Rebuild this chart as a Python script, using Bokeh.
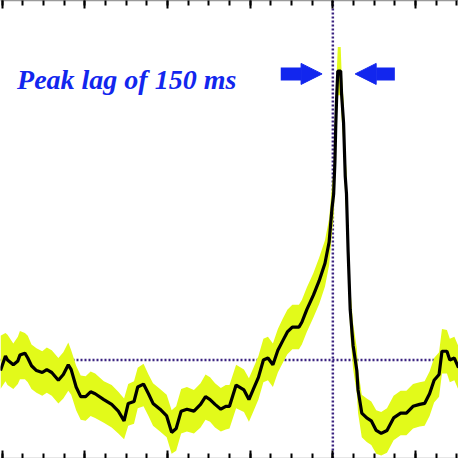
from bokeh.plotting import figure
from bokeh.models import Range1d, LinearAxis, FixedTicker, Span, Label, Arrow, NormalHead
from bokeh.embed import file_html
from bokeh.resources import INLINE

# Lag (s) and cross-correlation values
lag_s = [-8.04, -7.92, -7.87, -7.73, -7.62, -7.57, -7.45, -7.38, -7.29, -7.17,
         -7.03, -6.92, -6.80, -6.64, -6.52, -6.40, -6.33, -6.21, -6.10, -5.98,
         -5.86, -5.75, -5.54, -5.35, -5.19, -5.05, -4.95, -4.81, -4.72, -4.58,
         -4.46, -4.35, -4.18, -4.02, -3.90, -3.79, -3.67, -3.53, -3.36, -3.20,
         -3.08, -2.97, -2.85, -2.71, -2.59, -2.50, -2.34, -2.15, -2.03, -1.92,
         -1.80, -1.68, -1.57, -1.45, -1.33, -1.21, -1.10, -0.98, -0.82, -0.75,
         -0.63, -0.47, -0.33, -0.19, -0.09, -0.02, 0.02, 0.05, 0.07, 0.09,
         0.12, 0.19, 0.21, 0.26, 0.30, 0.33, 0.37, 0.42, 0.49, 0.58,
         0.61, 0.70, 0.82, 0.93, 1.05, 1.17, 1.31, 1.47, 1.64, 1.78,
         1.94, 2.10, 2.22, 2.34, 2.45, 2.57, 2.64, 2.76, 2.83, 2.94, 3.04]

xcorr = [-0.011, 0.004, 0.000, -0.005, -0.001, 0.005, 0.007, 0.002, -0.006, -0.011,
         -0.013, -0.010, -0.013, -0.021, -0.015, -0.005, -0.010, -0.028, -0.038, -0.038,
         -0.033, -0.035, -0.041, -0.046, -0.053, -0.063, -0.045, -0.043, -0.028, -0.025,
         -0.035, -0.045, -0.051, -0.058, -0.075, -0.071, -0.053, -0.051, -0.053, -0.046,
         -0.038, -0.041, -0.046, -0.051, -0.048, -0.048, -0.026, -0.031, -0.041, -0.030,
         -0.018, 0.000, 0.002, -0.005, 0.010, 0.020, 0.029, 0.034, 0.034, 0.039,
         0.052, 0.067, 0.082, 0.100, 0.122, 0.157, 0.172, 0.205, 0.242, 0.269,
         0.299, 0.299, 0.276, 0.245, 0.190, 0.172, 0.112, 0.052, 0.015, -0.011,
         -0.031, -0.055, -0.060, -0.063, -0.073, -0.076, -0.073, -0.060, -0.055, -0.055,
         -0.048, -0.046, -0.045, -0.035, -0.021, -0.015, 0.009, 0.009, 0.000, 0.002, -0.008]

band_upper = [0.025, 0.028, 0.026, 0.017, 0.024, 0.030, 0.028, 0.025, 0.016, 0.012,
              0.009, 0.013, 0.010, 0.002, 0.008, 0.018, 0.010, -0.006, -0.016, -0.017,
              -0.012, -0.014, -0.022, -0.026, -0.033, -0.040, -0.025, -0.022, -0.008, -0.004,
              -0.015, -0.024, -0.030, -0.036, -0.052, -0.048, -0.030, -0.028, -0.031, -0.024,
              -0.015, -0.018, -0.024, -0.029, -0.026, -0.026, -0.005, -0.010, -0.019, -0.008,
              0.004, 0.022, 0.024, 0.017, 0.032, 0.043, 0.052, 0.057, 0.057, 0.062,
              0.075, 0.090, 0.106, 0.124, 0.146, 0.180, 0.196, 0.229, 0.266, 0.293,
              0.324, 0.324, 0.300, 0.269, 0.214, 0.196, 0.136, 0.076, 0.038, 0.012,
              -0.010, -0.036, -0.040, -0.043, -0.052, -0.054, -0.050, -0.037, -0.032, -0.032,
              -0.025, -0.023, -0.022, -0.012, 0.002, 0.008, 0.032, 0.031, 0.022, 0.024, 0.014]

band_lower = [-0.030, -0.022, -0.026, -0.030, -0.025, -0.020, -0.020, -0.023, -0.030, -0.034,
              -0.037, -0.034, -0.037, -0.045, -0.040, -0.032, -0.036, -0.052, -0.062, -0.063,
              -0.058, -0.060, -0.065, -0.070, -0.076, -0.082, -0.068, -0.066, -0.050, -0.048,
              -0.058, -0.068, -0.074, -0.080, -0.097, -0.094, -0.076, -0.074, -0.076, -0.070,
              -0.062, -0.064, -0.070, -0.074, -0.072, -0.071, -0.050, -0.054, -0.064, -0.053,
              -0.041, -0.023, -0.021, -0.028, -0.013, -0.003, 0.006, 0.011, 0.011, 0.016,
              0.029, 0.044, 0.058, 0.076, 0.098, 0.132, 0.148, 0.181, 0.218, 0.245,
              0.274, 0.274, 0.252, 0.221, 0.166, 0.148, 0.088, 0.028, -0.009, -0.035,
              -0.055, -0.080, -0.085, -0.088, -0.097, -0.099, -0.096, -0.083, -0.078, -0.078,
              -0.071, -0.069, -0.068, -0.058, -0.044, -0.038, -0.014, -0.014, -0.023, -0.021, -0.031]

major_ticks = [-8, -6, -4, -2, 0, 2]
minor_ticks = [-8, -7.5, -7, -6.5, -6, -5.5, -5, -4.5, -4, -3.5, -3, -2.5, -2, -1.5,
               -1, -0.5, 0, 0.5, 1, 1.5, 2, 2.5, 3]

label_text = "Peak lag of 150 ms"

BLUE = "#1226ee"
YELLOW = "#e2fa1a"
DOT = "#3a2280"

p = figure(width=458, height=458, output_backend="svg", toolbar_location=None,
           x_range=Range1d(-8.04, 3.04), y_range=Range1d(-0.102, 0.372),
           x_axis_location=None, y_axis_location=None, min_border=0)
p.outline_line_color = None
p.grid.visible = False

ticker = FixedTicker(ticks=major_ticks, minor_ticks=minor_ticks)
for loc in ("above", "below"):
    ax = LinearAxis(ticker=ticker, major_label_text_font_size="0px",
                    major_label_text_color=None,
                    major_label_standoff=0,
                    major_tick_in=8, major_tick_out=0,
                    minor_tick_in=5, minor_tick_out=0,
                    major_tick_line_width=2, minor_tick_line_width=2,
                    major_tick_line_color="black", minor_tick_line_color="black",
                    axis_line_color="#9a9a9a", axis_line_width=1.5)
    p.add_layout(ax, loc)

p.add_layout(Span(location=0, dimension="height", line_color=DOT,
                  line_width=2.5, line_dash="2 2", level="underlay"))
p.add_layout(Span(location=0, dimension="width", line_color=DOT,
                  line_width=2.5, line_dash="2 2", level="underlay"))

p.varea(x=lag_s, y1=band_lower, y2=band_upper, fill_color=YELLOW)
p.line(lag_s, xcorr, line_color="black", line_width=3.2)

p.add_layout(Label(x=-7.64, y=0.290, text=label_text, text_font="Liberation Serif",
                   text_font_style="bold italic", text_font_size="28px",
                   text_color=BLUE, text_baseline="alphabetic"))

p.add_layout(Arrow(x_start=-1.26, y_start=0.296, x_end=-0.26, y_end=0.296,
                   line_width=13, line_color=BLUE,
                   end=NormalHead(size=21, fill_color=BLUE, line_color=BLUE, line_width=1)))
p.add_layout(Arrow(x_start=1.50, y_start=0.296, x_end=0.54, y_end=0.296,
                   line_width=13, line_color=BLUE,
                   end=NormalHead(size=21, fill_color=BLUE, line_color=BLUE, line_width=1)))

open("out.html", "w").write(file_html(p, INLINE))
